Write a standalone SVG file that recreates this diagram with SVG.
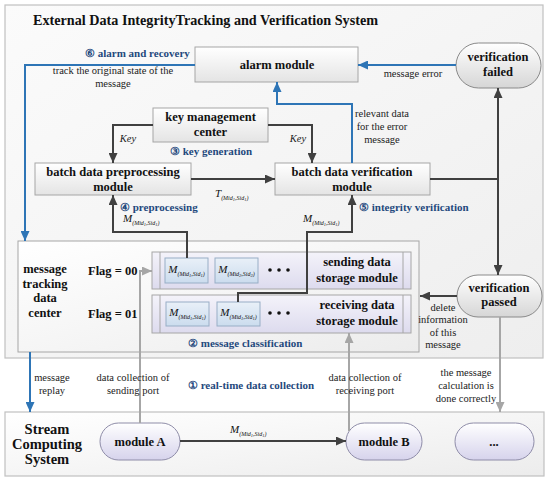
<svg xmlns="http://www.w3.org/2000/svg" width="550" height="482" viewBox="0 0 550 482" font-family="'Liberation Serif', 'DejaVu Serif', serif">
<defs>
<linearGradient id="gBox" x1="0" y1="0" x2="0" y2="1"><stop offset="0" stop-color="#ffffff"/><stop offset="1" stop-color="#e4e4e4"/></linearGradient>
<linearGradient id="gOuter" x1="0" y1="0" x2="1" y2="1"><stop offset="0" stop-color="#fbfbfb"/><stop offset="1" stop-color="#eeeeee"/></linearGradient>
<linearGradient id="gTrack" x1="0" y1="0" x2="1" y2="1"><stop offset="0" stop-color="#ffffff"/><stop offset="1" stop-color="#ececec"/></linearGradient>
<linearGradient id="gGrey" x1="0" y1="0" x2="0" y2="1"><stop offset="0" stop-color="#ffffff"/><stop offset="1" stop-color="#d6d6d6"/></linearGradient>
<linearGradient id="gLav" x1="0" y1="0" x2="0" y2="1"><stop offset="0" stop-color="#ffffff"/><stop offset="1" stop-color="#d6d3ec"/></linearGradient>
<linearGradient id="gStore" x1="0" y1="0" x2="0" y2="1"><stop offset="0" stop-color="#f4f3fa"/><stop offset="1" stop-color="#dddbee"/></linearGradient>
<linearGradient id="gM" x1="0" y1="0" x2="0" y2="1"><stop offset="0" stop-color="#e9f0f8"/><stop offset="1" stop-color="#cbdcee"/></linearGradient>
<marker id="aDark" markerUnits="userSpaceOnUse" markerWidth="10" markerHeight="9" refX="10" refY="4.5" orient="auto"><path d="M0,0 L10,4.5 L0,9 z" fill="#404040"/></marker>
<marker id="aBlue" markerUnits="userSpaceOnUse" markerWidth="10" markerHeight="9" refX="10" refY="4.5" orient="auto"><path d="M0,0 L10,4.5 L0,9 z" fill="#2e75b6"/></marker>
<marker id="aGrey" markerUnits="userSpaceOnUse" markerWidth="10" markerHeight="9" refX="10" refY="4.5" orient="auto"><path d="M0,0 L10,4.5 L0,9 z" fill="#a6a6a6"/></marker>
</defs>
<style>
text{font-family:'Liberation Serif','DejaVu Serif',serif;fill:#111}
.b{font-weight:bold;font-size:12.5px}
.t{font-size:10.5px;fill:#222}
.bl{font-weight:bold;font-size:11px;fill:#1f497d}
.m{font-style:italic;font-size:11px}
.mid{text-anchor:middle}
.box{fill:url(#gBox);stroke:#a6a6a6;stroke-width:1}
.dk{fill:none;stroke:#404040;stroke-width:2}
.bu{fill:none;stroke:#2e75b6;stroke-width:2}
.gy{fill:none;stroke:#a6a6a6;stroke-width:2}
.st{fill:url(#gStore);stroke:#a6a6a6;stroke-width:1}
.mb{fill:url(#gM);stroke:#98aec6;stroke-width:1}
.stad{fill:url(#gGrey);stroke:#8a8a8a;stroke-width:1}
.lav{fill:url(#gLav);stroke:#8e8ca8;stroke-width:1}
</style>

<g id="system">
<rect x="5" y="5" width="538" height="353" fill="url(#gOuter)" stroke="#c0c0c0" stroke-width="1.2"/>
<text x="33" y="25" font-weight="bold" font-size="14.5" textLength="345" lengthAdjust="spacingAndGlyphs">External Data IntegrityTracking and Verification System</text>
</g>

<g id="stream-system">
<rect x="5" y="412" width="539" height="64" fill="url(#gTrack)" stroke="#c0c0c0" stroke-width="1.2"/>
<text class="mid" x="47" y="434" font-weight="bold" font-size="14.5">Stream</text>
<text class="mid" x="47" y="449" font-weight="bold" font-size="14.5">Computing</text>
<text class="mid" x="47" y="464" font-weight="bold" font-size="14.5">System</text>
</g>

<g id="tracking-center">
<rect x="18" y="241" width="401" height="111" fill="url(#gTrack)" stroke="#a6a6a6" stroke-width="1"/>
<text class="b mid" x="45" y="273">message</text>
<text class="b mid" x="45" y="288">tracking</text>
<text class="b mid" x="45" y="302">data</text>
<text class="b mid" x="45" y="317">center</text>
<text class="b" x="88" y="275">Flag = 00</text>
<text class="b" x="88" y="318">Flag = 01</text>
</g>

<g id="sending-storage">
<rect class="st" x="152" y="252" width="259" height="37"/>
<line x1="160" y1="252" x2="160" y2="289" stroke="#a6a6a6"/>
<line x1="403" y1="252" x2="403" y2="289" stroke="#a6a6a6"/>
<rect class="mb" x="165" y="258" width="43" height="25"/>
<text class="m mid" x="186.5" y="273">M<tspan font-size="6" dy="3">(Mid</tspan><tspan font-size="4.5" dy="1">1</tspan><tspan font-size="6" dy="-1">,Sid</tspan><tspan font-size="4.5" dy="1">1</tspan><tspan font-size="6" dy="-1">)</tspan></text>
<rect class="mb" x="215" y="258" width="43" height="25"/>
<text class="m mid" x="236.5" y="273">M<tspan font-size="6" dy="3">(Mid</tspan><tspan font-size="4.5" dy="1">2</tspan><tspan font-size="6" dy="-1">,Sid</tspan><tspan font-size="4.5" dy="1">2</tspan><tspan font-size="6" dy="-1">)</tspan></text>
<circle cx="270" cy="270" r="1.8" fill="#111"/><circle cx="279" cy="270" r="1.8" fill="#111"/><circle cx="288" cy="270" r="1.8" fill="#111"/>
<text class="b mid" x="357" y="266">sending data</text>
<text class="b mid" x="357" y="282">storage module</text>
</g>

<g id="receiving-storage">
<rect class="st" x="152" y="295" width="259" height="38"/>
<line x1="160" y1="295" x2="160" y2="333" stroke="#a6a6a6"/>
<line x1="403" y1="295" x2="403" y2="333" stroke="#a6a6a6"/>
<rect class="mb" x="166" y="302" width="43" height="24"/>
<text class="m mid" x="187.5" y="316">M<tspan font-size="6" dy="3">(Mid</tspan><tspan font-size="4.5" dy="1">1</tspan><tspan font-size="6" dy="-1">,Sid</tspan><tspan font-size="4.5" dy="1">1</tspan><tspan font-size="6" dy="-1">)</tspan></text>
<rect class="mb" x="217" y="302" width="43" height="24"/>
<text class="m mid" x="238.5" y="316">M<tspan font-size="6" dy="3">(Mid</tspan><tspan font-size="4.5" dy="1">1</tspan><tspan font-size="6" dy="-1">,Sid</tspan><tspan font-size="4.5" dy="1">1</tspan><tspan font-size="6" dy="-1">)</tspan></text>
<circle cx="270" cy="313" r="1.8" fill="#111"/><circle cx="279" cy="313" r="1.8" fill="#111"/><circle cx="288" cy="313" r="1.8" fill="#111"/>
<text class="b mid" x="357" y="309">receiving data</text>
<text class="b mid" x="357" y="325">storage module</text>
</g>

<g id="alarm-module">
<rect class="box" x="195" y="47" width="163" height="35"/>
<text class="b mid" x="277" y="69">alarm module</text>
</g>

<g id="verification-failed">
<rect class="stad" x="456" y="43" width="85" height="45" rx="22.5"/>
<text class="b mid" x="498" y="61">verification</text>
<text class="b mid" x="498" y="76">failed</text>
</g>

<g id="key-management">
<rect class="box" x="153" y="108" width="115" height="34"/>
<text class="b mid" x="210.5" y="121">key management</text>
<text class="b mid" x="210.5" y="136">center</text>
</g>

<g id="preprocessing-module">
<rect class="box" x="35" y="163" width="156" height="32"/>
<text class="b mid" x="113" y="176">batch data preprocessing</text>
<text class="b mid" x="113" y="191">module</text>
</g>

<g id="verification-module">
<rect class="box" x="275" y="163" width="155" height="32"/>
<text class="b mid" x="352" y="176">batch data verification</text>
<text class="b mid" x="352" y="191">module</text>
</g>

<g id="verification-passed">
<rect class="stad" x="457" y="275" width="85" height="42" rx="21"/>
<text class="b mid" x="499" y="292">verification</text>
<text class="b mid" x="499" y="306">passed</text>
</g>

<g id="module-a">
<rect class="lav" x="100" y="423" width="80" height="37" rx="18.5"/>
<text class="b mid" x="140" y="446">module A</text>
</g>

<g id="module-b">
<rect class="lav" x="346" y="423" width="76" height="37" rx="18.5"/>
<text class="b mid" x="384" y="446">module B</text>
</g>

<g id="module-more">
<rect class="lav" x="455" y="423" width="79" height="37" rx="18.5"/>
<text class="b mid" x="494" y="446">...</text>
</g>

<g id="connectors">
<path class="bu" d="M456,65 L358,65" marker-end="url(#aBlue)"/>
<path class="bu" d="M195,65 L25,65 L25,241" marker-end="url(#aBlue)"/>
<path class="bu" d="M352,163 L352,104 L277,104 L277,82" marker-end="url(#aBlue)"/>
<path class="bu" d="M30,352 L30,412" marker-end="url(#aBlue)"/>
<path class="dk" d="M153,125 L113,125 L113,163" marker-end="url(#aDark)"/>
<path class="dk" d="M268,125 L312,125 L312,163" marker-end="url(#aDark)"/>
<path class="dk" d="M191,179 L275,179" marker-end="url(#aDark)"/>
<path class="dk" d="M430,179 L498,179 L498,88" marker-end="url(#aDark)"/>
<path class="dk" d="M498,178 L498,275" marker-end="url(#aDark)"/>
<path class="dk" d="M187,258 L187,232 L113,232 L113,195" marker-end="url(#aDark)"/>
<path class="dk" d="M238,302 L238,293 L307,293 L307,232 L352,232 L352,195" marker-end="url(#aDark)"/>
<path class="dk" d="M457,296 L420,296" marker-end="url(#aDark)"/>
<path class="dk" d="M180,441 L346,441" marker-end="url(#aDark)"/>
<path class="gy" d="M140,423 L140,271 L152,271" marker-end="url(#aGrey)"/>
<path class="gy" d="M349,431 L349,333" marker-end="url(#aGrey)"/>
<path class="gy" d="M500,317 L500,412" marker-end="url(#aGrey)"/>
</g>

<g id="labels">
<text class="bl" x="85" y="57">⑥ alarm and recovery</text>
<text class="t mid" x="113" y="74">track the original state of the</text>
<text class="t mid" x="113" y="87">message</text>
<text class="t mid" x="413" y="77">message error</text>
<text class="t mid" x="382" y="117">relevant data</text>
<text class="t mid" x="382" y="130">for the error</text>
<text class="t mid" x="382" y="143">message</text>
<text class="t mid" x="128" y="142" font-style="italic">Key</text>
<text class="t mid" x="298" y="142" font-style="italic">Key</text>
<text class="bl" x="170" y="155">③ key generation</text>
<text class="m" x="215" y="197">T<tspan font-size="6" dy="3">(Mid</tspan><tspan font-size="4.5" dy="1">1</tspan><tspan font-size="6" dy="-1">,Sid</tspan><tspan font-size="4.5" dy="1">1</tspan><tspan font-size="6" dy="-1">)</tspan></text>
<text class="bl" x="120" y="211">④ preprocessing</text>
<text class="m" x="123" y="222">M<tspan font-size="6" dy="3">(Mid</tspan><tspan font-size="4.5" dy="1">1</tspan><tspan font-size="6" dy="-1">,Sid</tspan><tspan font-size="4.5" dy="1">1</tspan><tspan font-size="6" dy="-1">)</tspan></text>
<text class="bl" x="359" y="211">⑤ integrity verification</text>
<text class="m" x="303" y="222">M<tspan font-size="6" dy="3">(Mid</tspan><tspan font-size="4.5" dy="1">1</tspan><tspan font-size="6" dy="-1">,Sid</tspan><tspan font-size="4.5" dy="1">1</tspan><tspan font-size="6" dy="-1">)</tspan></text>
<text class="bl" x="188" y="347">② message classification</text>
<text class="t mid" x="443" y="311">delete</text>
<text class="t mid" x="443" y="323">information</text>
<text class="t mid" x="443" y="336">of this</text>
<text class="t mid" x="443" y="348">message</text>
<text class="t mid" x="52" y="381">message</text>
<text class="t mid" x="52" y="394">replay</text>
<text class="t mid" x="133" y="381">data collection of</text>
<text class="t mid" x="133" y="394">sending port</text>
<text class="bl mid" x="251" y="389">① real-time data collection</text>
<text class="t mid" x="365" y="381">data collection of</text>
<text class="t mid" x="365" y="394">receiving port</text>
<text class="t mid" x="466" y="376">the message</text>
<text class="t mid" x="466" y="389">calculation is</text>
<text class="t mid" x="466" y="402">done correctly</text>
<text class="m" x="230" y="433">M<tspan font-size="6" dy="3">(Mid</tspan><tspan font-size="4.5" dy="1">1</tspan><tspan font-size="6" dy="-1">,Sid</tspan><tspan font-size="4.5" dy="1">1</tspan><tspan font-size="6" dy="-1">)</tspan></text>
</g>
</svg>
